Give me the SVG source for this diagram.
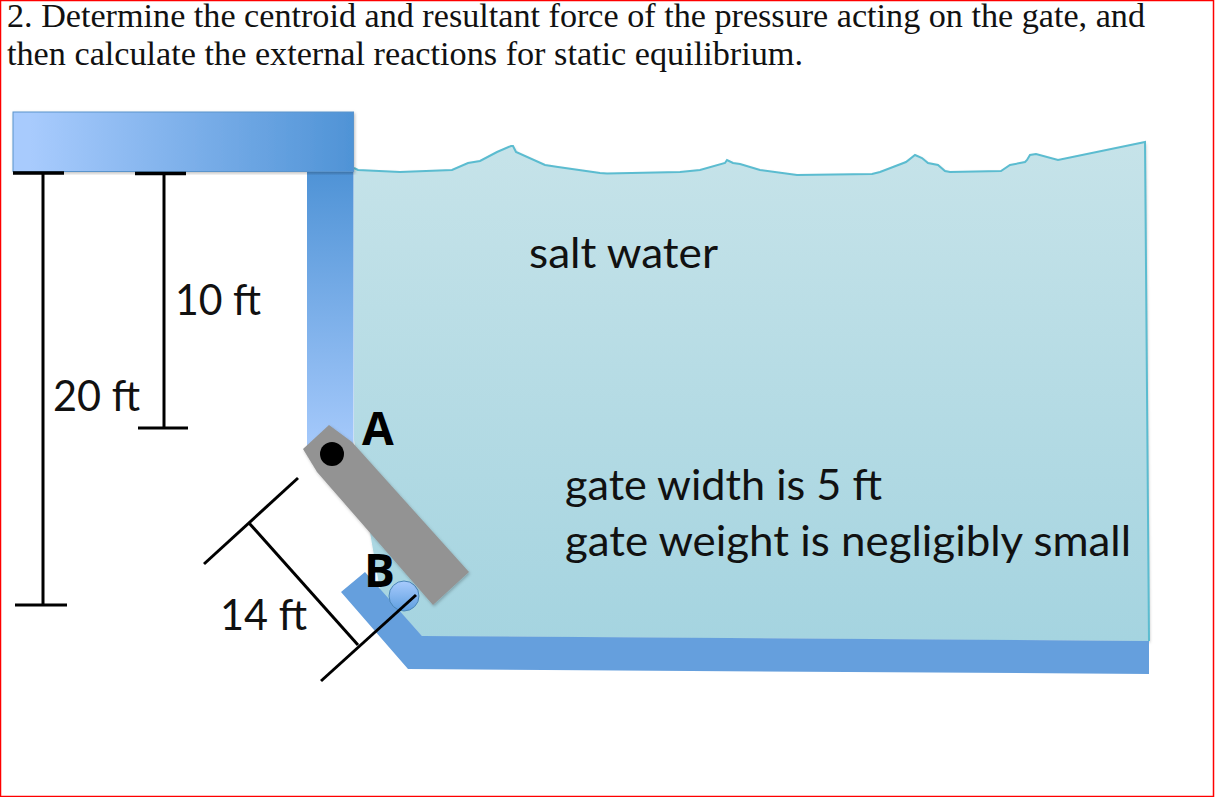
<svg xmlns="http://www.w3.org/2000/svg" width="1215" height="797" viewBox="0 0 1215 797">
<style>
.title{font-family:"Liberation Serif","DejaVu Serif",serif;font-size:33px;fill:#111}
.lab{font-family:Lato,"Open Sans",sans-serif;font-size:42px;fill:#111}
.bold{font-family:"Open Sans",Lato,sans-serif;font-size:46px;font-weight:700;fill:#000}
.dim{stroke:#000;stroke-width:3;fill:none}
.tick{stroke:#000;stroke-width:3.5;fill:none}
</style>
<defs>
<linearGradient id="barG" x1="0" y1="0" x2="1" y2="0"><stop offset="0.05" stop-color="#a8cbfd"/><stop offset="1" stop-color="#4f93d6"/></linearGradient>
<linearGradient id="stemG" x1="0" y1="0" x2="0" y2="1"><stop offset="0" stop-color="#4f93d6"/><stop offset="1" stop-color="#a5c9fb"/></linearGradient>
<linearGradient id="waterG" x1="0" y1="0" x2="0" y2="1"><stop offset="0" stop-color="#c6e3e9"/><stop offset="1" stop-color="#a5d4e0"/></linearGradient>
<linearGradient id="ballG" x1="0" y1="0" x2="0" y2="1"><stop offset="0" stop-color="#a8cbfd"/><stop offset="1" stop-color="#5f9fe0"/></linearGradient>
<filter id="soft" x="-5%" y="-5%" width="110%" height="110%"><feDropShadow dx="1" dy="1.500" stdDeviation="1.500" flood-color="#000" flood-opacity="0.25"/></filter>
</defs>
<rect id="frame" x="0.5" y="0.5" width="1213" height="796" fill="#fff" stroke="#f00" stroke-width="1.5"/>
<g id="question">
<text class="title" x="7" y="27" textLength="1138" lengthAdjust="spacingAndGlyphs">2. Determine the centroid and resultant force of the pressure acting on the gate, and</text>
<text class="title" x="7" y="65" textLength="796" lengthAdjust="spacingAndGlyphs">then calculate the external reactions for static equilibrium.</text>
</g>
<g id="water">
<path d="M354,168 L358,170 L400,172 L452,170 L468,163 L480,161 L497,152 L511,146 L513,146 L516,152 L545,165 L558,167 L600,173 L607,173.500 L680,172 L700,170 L725,163 L727,160 L733,163 L740,164 L760,170 L797,175 L872,174 L880,172 L906,162 L915,155 L922,158 L928,163 L938,165 L945,171 L950,172 L1001,171 L1010,165 L1025,162 L1027,160 L1030,155 L1036,154 L1058,160 L1145,142 L1149,641 L422,636 L380,590 L354,440 Z" fill="url(#waterG)" filter="url(#soft)"/>
<path d="M354,168 L358,170 L400,172 L452,170 L468,163 L480,161 L497,152 L511,146 L513,146 L516,152 L545,165 L558,167 L600,173 L607,173.500 L680,172 L700,170 L725,163 L727,160 L733,163 L740,164 L760,170 L797,175 L872,174 L880,172 L906,162 L915,155 L922,158 L928,163 L938,165 L945,171 L950,172 L1001,171 L1010,165 L1025,162 L1027,160 L1030,155 L1036,154 L1058,160 L1145,142 L1149,641" fill="none" stroke="#5bbcd0" stroke-width="2"/>
<text class="lab" x="529" y="268" textLength="189" lengthAdjust="spacingAndGlyphs">salt water</text>
<text class="lab" x="565" y="500" textLength="317" lengthAdjust="spacingAndGlyphs">gate width is 5 ft</text>
<text class="lab" x="565" y="556" textLength="566" lengthAdjust="spacingAndGlyphs">gate weight is negligibly small</text>
</g>
<g id="wall">
<rect x="307" y="172" width="46.500" height="274" fill="url(#stemG)"/>
<rect x="13" y="112" width="340.500" height="59.500" fill="url(#barG)" stroke="#5a94cc" stroke-width="1" filter="url(#soft)"/>
</g>
<g id="floor">
<polygon points="341,592 365,572 422,636 1149,641 1149,674 408,669" fill="#659fdd"/>
</g>
<g id="roller-B">
<circle cx="404" cy="596" r="15" fill="url(#ballG)" stroke="#4a86b8" stroke-width="1"/>
</g>
<g id="gate">
<polygon points="303,449 329,425 352,442 469,572 433,605 317,472" fill="#939393" filter="url(#soft)"/>
</g>
<g id="hinge-A">
<circle cx="332" cy="454" r="12" fill="#000"/>
</g>
<g id="connectors">
<line class="tick" x1="13" y1="173" x2="64" y2="173"/>
<line class="dim" x1="43" y1="173" x2="43" y2="605"/>
<line class="dim" x1="15" y1="605" x2="67" y2="605"/>
<line class="tick" x1="135" y1="173.500" x2="186" y2="173.500"/>
<line class="dim" x1="164" y1="173" x2="164" y2="428"/>
<line class="dim" x1="138" y1="428" x2="188" y2="428"/>
<line class="dim" x1="204" y1="564" x2="298" y2="478"/>
<line class="dim" x1="249" y1="523" x2="358" y2="645"/>
<line class="dim" x1="321" y1="681" x2="416" y2="595"/>
</g>
<g id="labels">
<text class="lab" x="175" y="315" textLength="86" lengthAdjust="spacingAndGlyphs">10 ft</text>
<text class="lab" x="53" y="411" textLength="87" lengthAdjust="spacingAndGlyphs">20 ft</text>
<text class="lab" x="220" y="630" textLength="87" lengthAdjust="spacingAndGlyphs">14 ft</text>
<text class="bold" x="362" y="445">A</text>
<text class="bold" x="364" y="587">B</text>
</g>
</svg>
